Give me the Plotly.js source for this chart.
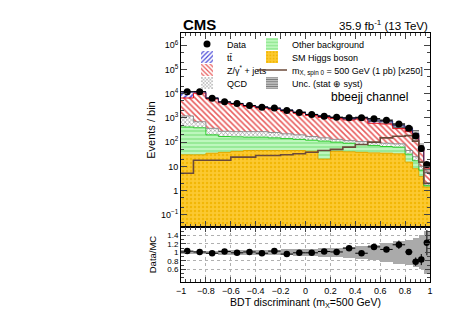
<!DOCTYPE html>
<html><head><meta charset="utf-8">
<script src="https://cdn.plot.ly/plotly-3.0.1.min.js"></script>
<style>html,body{margin:0;padding:0;background:#fff}</style>
</head><body><div id="chart" style="width:474px;height:334px"></div>
<script>
// ---- data ----
const binEdges = [-1,-0.9,-0.8,-0.7,-0.6,-0.5,-0.4,-0.3,-0.2,-0.1,0,0.1,0.2,0.3,0.4,0.5,0.6,0.7,0.8,0.86,0.91,0.95,1.0];
const dataCounts = [12000,12000,6500,4600,3900,3250,2750,2550,2000,1680,1380,1180,1050,1010,1010,920,800,560,375,178,54,12];
const smHiggs = [30,30,35,38,42,45,45,45,45,45,42,20,42,40,38,36,35,33,15,8,3.8,1.4];
const otherBkg = [390,360,165,132,123,115,115,105,95,85,78,90,58,50,42,36,31,29,17,9,3.2,0.2];
const qcd = [780,300,170,110,105,110,110,100,80,70,50,40,30,25,25,23,24,23,13,8,3,0.4];
const zjets = [5400,9810,5630,3820,3330,2680,2280,2000,1680,1350,1080,890,800,705,795,505,470,275,225,165,42,6.5];
const ttbar = [5050,1380,630,410,340,270,250,230,180,150,140,120,110,100,130,215,190,115,100,38,13,1.3];
const signal = [5.2,18,18,18,24,24,28,28,30,33,38,45,50,62,80,100,150,175,185,110,15,2];
const uncRel = [0.04,0.04,0.04,0.05,0.05,0.05,0.06,0.06,0.07,0.08,0.09,0.1,0.11,0.13,0.15,0.18,0.22,0.27,0.3,0.35,0.4,0.5];
const ratio = [1.03,1.01,0.98,1.02,0.99,1.01,0.98,1.03,0.96,0.99,0.99,1.02,1.01,1.10,0.98,1.13,1.07,1.18,1.01,0.78,0.83,1.23];
const ratioErr = [0.01,0.01,0.015,0.015,0.02,0.02,0.02,0.02,0.02,0.03,0.03,0.03,0.03,0.06,0.04,0.05,0.06,0.1,0.07,0.1,0.13,0.3];
const yTickVals = [0.1,1,10,100,1000,10000,100000,1000000];
const yTickText = ['10<sup>\u22121</sup>','1','10','10<sup>2</sup>','10<sup>3</sup>','10<sup>4</sup>','10<sup>5</sup>','10<sup>6</sup>'];
const xTickVals = [-1,-0.8,-0.6,-0.4,-0.2,0,0.2,0.4,0.6,0.8,1];
const xTickText = ['\u22121','\u22120.8','\u22120.6','\u22120.4','\u22120.2','0','0.2','0.4','0.6','0.8','1'];
const rTickVals = [0.6,0.8,1,1.2,1.4];
const rTickText = ['0.6','0.8','1','1.2','1.4'];

// ---- derived structures ----
const n = dataCounts.length;
const centers = [], widths = [], halfW = [];
for (let i = 0; i < n; i++) {
  centers.push((binEdges[i] + binEdges[i+1]) / 2);
  widths.push(binEdges[i+1] - binEdges[i]);
  halfW.push((binEdges[i+1] - binEdges[i]) / 2);
}
const layers = [smHiggs, otherBkg, qcd, zjets, ttbar];
const tops = []; const bases = [];
let cum = new Array(n).fill(0);
layers.forEach(l => {
  bases.push(cum.slice());
  cum = cum.map((v, i) => v + l[i]);
  tops.push(cum.slice());
});
const total = tops[tops.length - 1];
const stepY = arr => arr.concat([arr[arr.length - 1]]);

function barTrace(name, vals, base, color, pattern, legend) {
  const t = {type:'bar', name:name, x:centers, y:vals, width:widths,
    marker:{color:color, line:{width:0}, pattern:pattern},
    legend:legend, hoverinfo:'skip'};
  if (base) t.base = base;
  return t;
}
function edgeLine(vals, color, w) {
  return {type:'scatter', mode:'lines', x:binEdges, y:stepY(vals), line:{shape:'hv', color:color, width:w},
    showlegend:false, hoverinfo:'skip'};
}

const traces = [
  barTrace('SM Higgs boson', smHiggs, null, '#fcc931', {shape:'.', fgcolor:'#f2b705', bgcolor:'#fcc931', size:4, solidity:0.3}, 'legend6'),
  barTrace('Other background', otherBkg, bases[1], '#b5f5b5', {shape:'-', fgcolor:'#7fe27f', bgcolor:'#bdf7bd', size:4, solidity:0.3}, 'legend5'),
  barTrace('QCD', qcd, bases[2], '#ffffff', {shape:'x', fgcolor:'#a0a0a0', bgcolor:'#ffffff', size:3, solidity:0.4}, 'legend4'),
  barTrace('Z/\u03b3<sup>*</sup> + jets', zjets, bases[3], '#ffffff', {shape:'\\', fgcolor:'#e85a5a', bgcolor:'#ffffff', size:4, solidity:0.38}, 'legend3'),
  barTrace('t\u0074\u0304', ttbar, bases[4], '#ffffff', {shape:'/', fgcolor:'#4a4ad8', bgcolor:'#ffffff', size:4, solidity:0.38}, 'legend2'),
  barTrace('Unc. (stat \u2295 syst)', total.map((v,i)=>2*v*uncRel[i]), total.map((v,i)=>v*(1-uncRel[i])), 'rgba(90,90,90,0.55)', {shape:'-', fgcolor:'rgba(60,60,60,0.6)', bgcolor:'rgba(150,150,150,0.55)', size:3, solidity:0.4}, 'legend8'),
  edgeLine(tops[0], '#e0a800', 1),
  edgeLine(tops[1], '#2ecc2e', 1),
  edgeLine(tops[2], '#909090', 1),
  edgeLine(tops[3], '#e8101a', 1),
  edgeLine(tops[4], '#22226a', 1),
  {type:'scatter', mode:'lines', name:'m<sub>X, spin 0</sub> = 500 GeV (1 pb) [x250]', x:binEdges, y:stepY(signal),
    line:{shape:'hv', color:'#6b4a3a', width:1.6}, legend:'legend7', hoverinfo:'skip'},
  {type:'scatter', mode:'markers', name:'Data', x:centers, y:dataCounts,
    marker:{color:'black', size:7},
    error_x:{type:'data', array:halfW, visible:true, color:'black', thickness:1, width:0},
    legend:'legend', hoverinfo:'skip'},
  // ratio panel
  {type:'bar', x:centers, y:uncRel.map(e=>2*e), base:uncRel.map(e=>1-e), width:widths, xaxis:'x2', yaxis:'y2',
    marker:{color:'#aaaaaa', line:{width:0}}, showlegend:false, hoverinfo:'skip'},
  {type:'scatter', mode:'markers', x:centers, y:ratio, xaxis:'x2', yaxis:'y2',
    marker:{color:'black', size:6.5},
    error_x:{type:'data', array:halfW, visible:true, color:'black', thickness:1, width:0},
    error_y:{type:'data', array:ratioErr, visible:true, color:'black', thickness:1, width:0},
    showlegend:false, hoverinfo:'skip'}
];

const W = 474, H = 334;
const px = v => v / W, py = v => 1 - v / H;
const xDom = [px(181), px(430)];
const legendBase = {orientation:'v', xanchor:'left', yanchor:'middle',
  bgcolor:'rgba(0,0,0,0)', font:{size:9, family:'Liberation Sans, Arial, sans-serif'}, itemwidth:30};
const leg = (xp, yp) => Object.assign({}, legendBase, {x:px(xp), y:py(yp)});
const axLine = {showline:true, linecolor:'black', linewidth:1, mirror:'ticks', zeroline:false};

const layout = {
  width:W, height:H, margin:{l:0, r:0, t:0, b:0},
  paper_bgcolor:'white', plot_bgcolor:'white',
  barmode:'overlay', bargap:0,
  font:{family:'Liberation Sans, Arial, sans-serif', size:9, color:'black'},
  showlegend:true,
  legend: leg(187, 44), legend2: leg(187, 57), legend3: leg(187, 70), legend4: leg(187, 83),
  legend5: leg(252, 44), legend6: leg(252, 57), legend7: leg(252, 70), legend8: leg(252, 83),
  xaxis: Object.assign({}, axLine, {domain:xDom, anchor:'y', range:[-1,1], showticklabels:false,
    tickvals:xTickVals, ticks:'inside', ticklen:6, showgrid:false,
    minor:{ticks:'inside', ticklen:3, dtick:0.04, tick0:-1, showgrid:false}}),
  yaxis: Object.assign({}, axLine, {domain:[py(227), py(33)], anchor:'x', type:'log', range:[-1.5, 6.5],
    tickvals:yTickVals, ticktext:yTickText, ticks:'inside', ticklen:6, showgrid:false,
    tickfont:{size:9},
    minor:{ticks:'inside', ticklen:3, showgrid:false},
    title:{text:'Events / bin', font:{size:11}, standoff:3}}),
  xaxis2: Object.assign({}, axLine, {domain:xDom, anchor:'y2', matches:'x', range:[-1,1],
    tickvals:xTickVals, ticktext:xTickText, ticks:'inside', ticklen:5, tickfont:{size:9},
    showgrid:true, gridcolor:'#b0b0b0', griddash:'dot', gridwidth:1,
    minor:{ticks:'inside', ticklen:3, dtick:0.04, tick0:-1, showgrid:false},
    title:{text:'BDT discriminant (m<sub>X</sub>=500 GeV)', font:{size:10.5}, standoff:2}}),
  yaxis2: Object.assign({}, axLine, {domain:[py(282), py(227)], anchor:'x2', range:[0.3, 1.6],
    tickvals:rTickVals, ticktext:rTickText, ticks:'inside', ticklen:5, tickfont:{size:8},
    showgrid:true, gridcolor:'#b0b0b0', griddash:'dot', gridwidth:1,
    minor:{ticks:'inside', ticklen:3, dtick:0.1, showgrid:false},
    title:{text:'Data/MC', font:{size:9.5}, standoff:8}}),
  annotations:[
    {text:'<b>CMS</b>', xref:'paper', yref:'paper', x:px(181), y:py(25), xanchor:'left', yanchor:'middle',
      showarrow:false, font:{size:15, family:'Liberation Sans, Arial, sans-serif'}},
    {text:'35.9 fb<sup>-1</sup> (13 TeV)', xref:'paper', yref:'paper', x:px(430), y:py(25), xanchor:'right', yanchor:'middle',
      showarrow:false, font:{size:11.5}},
    {text:'bbeejj channel', xref:'paper', yref:'paper', x:px(329), y:py(97), xanchor:'left', yanchor:'middle',
      showarrow:false, font:{size:12}}
  ]
};

Plotly.newPlot('chart', traces, layout, {staticPlot:true, displayModeBar:false});
</script>
</body></html>
